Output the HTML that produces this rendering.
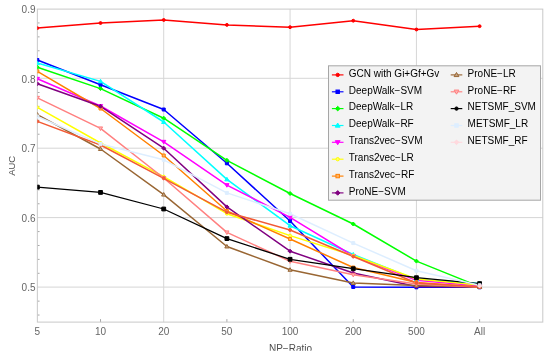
<!DOCTYPE html>
<html><head><meta charset="utf-8"><title>AUC vs NP-Ratio</title>
<style>
html,body{margin:0;padding:0;background:#fff;}
body{width:550px;height:356px;overflow:hidden;}
svg{display:block;font-family:"Liberation Sans",Arial,sans-serif;}
</style></head><body>
<svg width="550" height="356" viewBox="0 0 550 356">
<defs><clipPath id="pc"><rect x="37.35" y="9.1" width="505.45" height="313.00"/></clipPath></defs>
<rect x="0" y="0" width="550" height="356" fill="#ffffff"/>

<line x1="37.35" y1="78.3" x2="542.8" y2="78.3" stroke="#d6d6d6" stroke-width="1"/>
<line x1="37.35" y1="148.2" x2="542.8" y2="148.2" stroke="#d6d6d6" stroke-width="1"/>
<line x1="37.35" y1="217.6" x2="542.8" y2="217.6" stroke="#d6d6d6" stroke-width="1"/>
<line x1="37.35" y1="287.1" x2="542.8" y2="287.1" stroke="#d6d6d6" stroke-width="1"/>
<line x1="163.71" y1="9.1" x2="163.71" y2="322.1" stroke="#d6d6d6" stroke-width="1"/>
<line x1="290.07" y1="9.1" x2="290.07" y2="322.1" stroke="#d6d6d6" stroke-width="1"/>
<line x1="416.43" y1="9.1" x2="416.43" y2="322.1" stroke="#d6d6d6" stroke-width="1"/>
<line x1="37.35" y1="22.95" x2="39.55" y2="22.95" stroke="#a8a8a8" stroke-width="1"/>
<line x1="37.35" y1="36.86" x2="39.55" y2="36.86" stroke="#a8a8a8" stroke-width="1"/>
<line x1="37.35" y1="50.77" x2="39.55" y2="50.77" stroke="#a8a8a8" stroke-width="1"/>
<line x1="37.35" y1="64.68" x2="39.55" y2="64.68" stroke="#a8a8a8" stroke-width="1"/>
<line x1="37.35" y1="92.49" x2="39.55" y2="92.49" stroke="#a8a8a8" stroke-width="1"/>
<line x1="37.35" y1="106.40" x2="39.55" y2="106.40" stroke="#a8a8a8" stroke-width="1"/>
<line x1="37.35" y1="120.31" x2="39.55" y2="120.31" stroke="#a8a8a8" stroke-width="1"/>
<line x1="37.35" y1="134.22" x2="39.55" y2="134.22" stroke="#a8a8a8" stroke-width="1"/>
<line x1="37.35" y1="162.04" x2="39.55" y2="162.04" stroke="#a8a8a8" stroke-width="1"/>
<line x1="37.35" y1="175.95" x2="39.55" y2="175.95" stroke="#a8a8a8" stroke-width="1"/>
<line x1="37.35" y1="189.86" x2="39.55" y2="189.86" stroke="#a8a8a8" stroke-width="1"/>
<line x1="37.35" y1="203.77" x2="39.55" y2="203.77" stroke="#a8a8a8" stroke-width="1"/>
<line x1="37.35" y1="231.58" x2="39.55" y2="231.58" stroke="#a8a8a8" stroke-width="1"/>
<line x1="37.35" y1="245.49" x2="39.55" y2="245.49" stroke="#a8a8a8" stroke-width="1"/>
<line x1="37.35" y1="259.40" x2="39.55" y2="259.40" stroke="#a8a8a8" stroke-width="1"/>
<line x1="37.35" y1="273.31" x2="39.55" y2="273.31" stroke="#a8a8a8" stroke-width="1"/>
<line x1="37.35" y1="301.13" x2="39.55" y2="301.13" stroke="#a8a8a8" stroke-width="1"/>
<line x1="37.35" y1="315.04" x2="39.55" y2="315.04" stroke="#a8a8a8" stroke-width="1"/>
<line x1="100.53" y1="322.1" x2="100.53" y2="319.1" stroke="#a8a8a8" stroke-width="1"/>
<line x1="226.89" y1="322.1" x2="226.89" y2="319.1" stroke="#a8a8a8" stroke-width="1"/>
<line x1="353.25" y1="322.1" x2="353.25" y2="319.1" stroke="#a8a8a8" stroke-width="1"/>
<line x1="479.61" y1="322.1" x2="479.61" y2="319.1" stroke="#a8a8a8" stroke-width="1"/>
<rect x="37.35" y="9.1" width="505.45" height="313.00" fill="none" stroke="#c8c8c8" stroke-width="1"/>
<g clip-path="url(#pc)" stroke-linejoin="round">
<polyline points="37.35,28.10 100.53,23.07 163.71,20.00 226.89,24.90 290.07,27.20 353.25,20.70 416.43,29.50 479.61,26.20" fill="none" stroke="#ff0000" stroke-width="1.5"/>
<polyline points="37.35,60.00 100.53,84.80 163.71,109.50 226.89,163.30 290.07,221.00 353.25,287.00 416.43,287.30 479.61,287.30" fill="none" stroke="#0000ff" stroke-width="1.5"/>
<polyline points="37.35,67.20 100.53,88.60 163.71,118.20 226.89,160.30 290.07,193.50 353.25,224.00 416.43,261.10 479.61,286.60" fill="none" stroke="#00ff00" stroke-width="1.5"/>
<polyline points="37.35,63.00 100.53,81.40 163.71,122.00 226.89,179.40 290.07,225.70 353.25,254.50 416.43,279.60 479.61,283.40" fill="none" stroke="#00ffff" stroke-width="1.5"/>
<polyline points="37.35,78.80 100.53,106.00 163.71,141.80 226.89,185.10 290.07,217.30 353.25,256.00 416.43,280.20 479.61,286.00" fill="none" stroke="#ff00ff" stroke-width="1.5"/>
<polyline points="37.35,107.40 100.53,143.00 163.71,176.60 226.89,213.70 290.07,235.60 353.25,255.50 416.43,279.00 479.61,285.00" fill="none" stroke="#ffff00" stroke-width="1.5"/>
<polyline points="37.35,71.30 100.53,108.50 163.71,155.50 226.89,211.00 290.07,239.00 353.25,267.50 416.43,282.50 479.61,287.00" fill="none" stroke="#ff8000" stroke-width="1.5"/>
<polyline points="37.35,83.80 100.53,106.30 163.71,148.20 226.89,206.90 290.07,251.20 353.25,273.00 416.43,286.50 479.61,287.00" fill="none" stroke="#800080" stroke-width="1.5"/>
<polyline points="37.35,114.60 100.53,149.00 163.71,194.60 226.89,246.50 290.07,269.80 353.25,283.00 416.43,285.50 479.61,287.00" fill="none" stroke="#996633" stroke-width="1.5"/>
<polyline points="37.35,97.80 100.53,128.40 163.71,178.00 226.89,232.40 290.07,261.30 353.25,274.80 416.43,284.00 479.61,287.00" fill="none" stroke="#ff8080" stroke-width="1.5"/>
<polyline points="37.35,121.40 100.53,145.00 163.71,178.30 226.89,212.20 290.07,230.00 353.25,256.50 416.43,283.00 479.61,287.00" fill="none" stroke="#f25a35" stroke-width="1.5"/>
<polyline points="37.35,187.10 100.53,192.40 163.71,209.00 226.89,238.60 290.07,259.30 353.25,268.70 416.43,277.70 479.61,283.60" fill="none" stroke="#000000" stroke-width="1.25"/>
<polyline points="37.35,116.50 100.53,143.90 163.71,159.80 226.89,192.90 290.07,213.80 353.25,243.10 416.43,270.80 479.61,285.30" fill="none" stroke="#ddeeff" stroke-width="1.5"/>
<circle cx="37.35" cy="28.10" r="1.45" fill="#ff0000" stroke="#ff0000" stroke-width="1.0"/>
<circle cx="100.53" cy="23.07" r="1.45" fill="#ff0000" stroke="#ff0000" stroke-width="1.0"/>
<circle cx="163.71" cy="20.00" r="1.45" fill="#ff0000" stroke="#ff0000" stroke-width="1.0"/>
<circle cx="226.89" cy="24.90" r="1.45" fill="#ff0000" stroke="#ff0000" stroke-width="1.0"/>
<circle cx="290.07" cy="27.20" r="1.45" fill="#ff0000" stroke="#ff0000" stroke-width="1.0"/>
<circle cx="353.25" cy="20.70" r="1.45" fill="#ff0000" stroke="#ff0000" stroke-width="1.0"/>
<circle cx="416.43" cy="29.50" r="1.45" fill="#ff0000" stroke="#ff0000" stroke-width="1.0"/>
<circle cx="479.61" cy="26.20" r="1.45" fill="#ff0000" stroke="#ff0000" stroke-width="1.0"/>
<rect x="35.85" y="58.50" width="3.00" height="3.00" fill="#0000ff" stroke="#0000ff" stroke-width="1.0"/>
<rect x="99.03" y="83.30" width="3.00" height="3.00" fill="#0000ff" stroke="#0000ff" stroke-width="1.0"/>
<rect x="162.21" y="108.00" width="3.00" height="3.00" fill="#0000ff" stroke="#0000ff" stroke-width="1.0"/>
<rect x="225.39" y="161.80" width="3.00" height="3.00" fill="#0000ff" stroke="#0000ff" stroke-width="1.0"/>
<rect x="288.57" y="219.50" width="3.00" height="3.00" fill="#0000ff" stroke="#0000ff" stroke-width="1.0"/>
<rect x="351.75" y="285.50" width="3.00" height="3.00" fill="#0000ff" stroke="#0000ff" stroke-width="1.0"/>
<rect x="414.93" y="285.80" width="3.00" height="3.00" fill="#0000ff" stroke="#0000ff" stroke-width="1.0"/>
<rect x="478.11" y="285.80" width="3.00" height="3.00" fill="#0000ff" stroke="#0000ff" stroke-width="1.0"/>
<path d="M37.35 65.20L39.35 67.20L37.35 69.20L35.35 67.20Z" fill="#00ff00" stroke="#00ff00" stroke-width="1.0"/>
<path d="M100.53 86.60L102.53 88.60L100.53 90.60L98.53 88.60Z" fill="#00ff00" stroke="#00ff00" stroke-width="1.0"/>
<path d="M163.71 116.20L165.71 118.20L163.71 120.20L161.71 118.20Z" fill="#00ff00" stroke="#00ff00" stroke-width="1.0"/>
<path d="M226.89 158.30L228.89 160.30L226.89 162.30L224.89 160.30Z" fill="#00ff00" stroke="#00ff00" stroke-width="1.0"/>
<path d="M290.07 191.50L292.07 193.50L290.07 195.50L288.07 193.50Z" fill="#00ff00" stroke="#00ff00" stroke-width="1.0"/>
<path d="M353.25 222.00L355.25 224.00L353.25 226.00L351.25 224.00Z" fill="#00ff00" stroke="#00ff00" stroke-width="1.0"/>
<path d="M416.43 259.10L418.43 261.10L416.43 263.10L414.43 261.10Z" fill="#00ff00" stroke="#00ff00" stroke-width="1.0"/>
<path d="M479.61 284.60L481.61 286.60L479.61 288.60L477.61 286.60Z" fill="#00ff00" stroke="#00ff00" stroke-width="1.0"/>
<path d="M37.35 60.90L39.45 64.47L35.25 64.47Z" fill="#00ffff" stroke="#00ffff" stroke-width="1.0"/>
<path d="M100.53 79.30L102.63 82.87L98.43 82.87Z" fill="#00ffff" stroke="#00ffff" stroke-width="1.0"/>
<path d="M163.71 119.90L165.81 123.47L161.61 123.47Z" fill="#00ffff" stroke="#00ffff" stroke-width="1.0"/>
<path d="M226.89 177.30L228.99 180.87L224.79 180.87Z" fill="#00ffff" stroke="#00ffff" stroke-width="1.0"/>
<path d="M290.07 223.60L292.17 227.17L287.97 227.17Z" fill="#00ffff" stroke="#00ffff" stroke-width="1.0"/>
<path d="M353.25 252.40L355.35 255.97L351.15 255.97Z" fill="#00ffff" stroke="#00ffff" stroke-width="1.0"/>
<path d="M416.43 277.50L418.53 281.07L414.33 281.07Z" fill="#00ffff" stroke="#00ffff" stroke-width="1.0"/>
<path d="M479.61 281.30L481.71 284.87L477.51 284.87Z" fill="#00ffff" stroke="#00ffff" stroke-width="1.0"/>
<path d="M37.35 80.90L39.45 77.33L35.25 77.33Z" fill="#ff00ff" stroke="#ff00ff" stroke-width="1.0"/>
<path d="M100.53 108.10L102.63 104.53L98.43 104.53Z" fill="#ff00ff" stroke="#ff00ff" stroke-width="1.0"/>
<path d="M163.71 143.90L165.81 140.33L161.61 140.33Z" fill="#ff00ff" stroke="#ff00ff" stroke-width="1.0"/>
<path d="M226.89 187.20L228.99 183.63L224.79 183.63Z" fill="#ff00ff" stroke="#ff00ff" stroke-width="1.0"/>
<path d="M290.07 219.40L292.17 215.83L287.97 215.83Z" fill="#ff00ff" stroke="#ff00ff" stroke-width="1.0"/>
<path d="M353.25 258.10L355.35 254.53L351.15 254.53Z" fill="#ff00ff" stroke="#ff00ff" stroke-width="1.0"/>
<path d="M416.43 282.30L418.53 278.73L414.33 278.73Z" fill="#ff00ff" stroke="#ff00ff" stroke-width="1.0"/>
<path d="M479.61 288.10L481.71 284.53L477.51 284.53Z" fill="#ff00ff" stroke="#ff00ff" stroke-width="1.0"/>
<circle cx="37.35" cy="107.40" r="1.45" fill="#ffff66" stroke="#ffff00" stroke-width="1.0"/>
<circle cx="100.53" cy="143.00" r="1.45" fill="#ffff66" stroke="#ffff00" stroke-width="1.0"/>
<circle cx="163.71" cy="176.60" r="1.45" fill="#ffff66" stroke="#ffff00" stroke-width="1.0"/>
<circle cx="226.89" cy="213.70" r="1.45" fill="#ffff66" stroke="#ffff00" stroke-width="1.0"/>
<circle cx="290.07" cy="235.60" r="1.45" fill="#ffff66" stroke="#ffff00" stroke-width="1.0"/>
<circle cx="353.25" cy="255.50" r="1.45" fill="#ffff66" stroke="#ffff00" stroke-width="1.0"/>
<circle cx="416.43" cy="279.00" r="1.45" fill="#ffff66" stroke="#ffff00" stroke-width="1.0"/>
<circle cx="479.61" cy="285.00" r="1.45" fill="#ffff66" stroke="#ffff00" stroke-width="1.0"/>
<rect x="35.85" y="69.80" width="3.00" height="3.00" fill="#ffb366" stroke="#ff8000" stroke-width="1.0"/>
<rect x="99.03" y="107.00" width="3.00" height="3.00" fill="#ffb366" stroke="#ff8000" stroke-width="1.0"/>
<rect x="162.21" y="154.00" width="3.00" height="3.00" fill="#ffb366" stroke="#ff8000" stroke-width="1.0"/>
<rect x="225.39" y="209.50" width="3.00" height="3.00" fill="#ffb366" stroke="#ff8000" stroke-width="1.0"/>
<rect x="288.57" y="237.50" width="3.00" height="3.00" fill="#ffb366" stroke="#ff8000" stroke-width="1.0"/>
<rect x="351.75" y="266.00" width="3.00" height="3.00" fill="#ffb366" stroke="#ff8000" stroke-width="1.0"/>
<rect x="414.93" y="281.00" width="3.00" height="3.00" fill="#ffb366" stroke="#ff8000" stroke-width="1.0"/>
<rect x="478.11" y="285.50" width="3.00" height="3.00" fill="#ffb366" stroke="#ff8000" stroke-width="1.0"/>
<path d="M37.35 81.80L39.35 83.80L37.35 85.80L35.35 83.80Z" fill="#800080" stroke="#800080" stroke-width="1.0"/>
<path d="M100.53 104.30L102.53 106.30L100.53 108.30L98.53 106.30Z" fill="#800080" stroke="#800080" stroke-width="1.0"/>
<path d="M163.71 146.20L165.71 148.20L163.71 150.20L161.71 148.20Z" fill="#800080" stroke="#800080" stroke-width="1.0"/>
<path d="M226.89 204.90L228.89 206.90L226.89 208.90L224.89 206.90Z" fill="#800080" stroke="#800080" stroke-width="1.0"/>
<path d="M290.07 249.20L292.07 251.20L290.07 253.20L288.07 251.20Z" fill="#800080" stroke="#800080" stroke-width="1.0"/>
<path d="M353.25 271.00L355.25 273.00L353.25 275.00L351.25 273.00Z" fill="#800080" stroke="#800080" stroke-width="1.0"/>
<path d="M416.43 284.50L418.43 286.50L416.43 288.50L414.43 286.50Z" fill="#800080" stroke="#800080" stroke-width="1.0"/>
<path d="M479.61 285.00L481.61 287.00L479.61 289.00L477.61 287.00Z" fill="#800080" stroke="#800080" stroke-width="1.0"/>
<path d="M37.35 112.50L39.45 116.07L35.25 116.07Z" fill="#c2a385" stroke="#996633" stroke-width="1.0"/>
<path d="M100.53 146.90L102.63 150.47L98.43 150.47Z" fill="#c2a385" stroke="#996633" stroke-width="1.0"/>
<path d="M163.71 192.50L165.81 196.07L161.61 196.07Z" fill="#c2a385" stroke="#996633" stroke-width="1.0"/>
<path d="M226.89 244.40L228.99 247.97L224.79 247.97Z" fill="#c2a385" stroke="#996633" stroke-width="1.0"/>
<path d="M290.07 267.70L292.17 271.27L287.97 271.27Z" fill="#c2a385" stroke="#996633" stroke-width="1.0"/>
<path d="M353.25 280.90L355.35 284.47L351.15 284.47Z" fill="#c2a385" stroke="#996633" stroke-width="1.0"/>
<path d="M416.43 283.40L418.53 286.97L414.33 286.97Z" fill="#c2a385" stroke="#996633" stroke-width="1.0"/>
<path d="M479.61 284.90L481.71 288.47L477.51 288.47Z" fill="#c2a385" stroke="#996633" stroke-width="1.0"/>
<path d="M37.35 99.90L39.45 96.33L35.25 96.33Z" fill="#ffb3b3" stroke="#ff8080" stroke-width="1.0"/>
<path d="M100.53 130.50L102.63 126.93L98.43 126.93Z" fill="#ffb3b3" stroke="#ff8080" stroke-width="1.0"/>
<path d="M163.71 180.10L165.81 176.53L161.61 176.53Z" fill="#ffb3b3" stroke="#ff8080" stroke-width="1.0"/>
<path d="M226.89 234.50L228.99 230.93L224.79 230.93Z" fill="#ffb3b3" stroke="#ff8080" stroke-width="1.0"/>
<path d="M290.07 263.40L292.17 259.83L287.97 259.83Z" fill="#ffb3b3" stroke="#ff8080" stroke-width="1.0"/>
<path d="M353.25 276.90L355.35 273.33L351.15 273.33Z" fill="#ffb3b3" stroke="#ff8080" stroke-width="1.0"/>
<path d="M416.43 286.10L418.53 282.53L414.33 282.53Z" fill="#ffb3b3" stroke="#ff8080" stroke-width="1.0"/>
<path d="M479.61 289.10L481.71 285.53L477.51 285.53Z" fill="#ffb3b3" stroke="#ff8080" stroke-width="1.0"/>
<circle cx="37.35" cy="121.40" r="1.45" fill="#f25a35" stroke="#f25a35" stroke-width="1.0"/>
<circle cx="100.53" cy="145.00" r="1.45" fill="#f25a35" stroke="#f25a35" stroke-width="1.0"/>
<circle cx="163.71" cy="178.30" r="1.45" fill="#f25a35" stroke="#f25a35" stroke-width="1.0"/>
<circle cx="226.89" cy="212.20" r="1.45" fill="#f25a35" stroke="#f25a35" stroke-width="1.0"/>
<circle cx="290.07" cy="230.00" r="1.45" fill="#f25a35" stroke="#f25a35" stroke-width="1.0"/>
<circle cx="353.25" cy="256.50" r="1.45" fill="#f25a35" stroke="#f25a35" stroke-width="1.0"/>
<circle cx="416.43" cy="283.00" r="1.45" fill="#f25a35" stroke="#f25a35" stroke-width="1.0"/>
<circle cx="479.61" cy="287.00" r="1.45" fill="#f25a35" stroke="#f25a35" stroke-width="1.0"/>
<rect x="35.45" y="185.20" width="3.80" height="3.80" fill="#000000" stroke="#000000" stroke-width="1.0"/>
<rect x="98.63" y="190.50" width="3.80" height="3.80" fill="#000000" stroke="#000000" stroke-width="1.0"/>
<rect x="161.81" y="207.10" width="3.80" height="3.80" fill="#000000" stroke="#000000" stroke-width="1.0"/>
<rect x="224.99" y="236.70" width="3.80" height="3.80" fill="#000000" stroke="#000000" stroke-width="1.0"/>
<rect x="288.17" y="257.40" width="3.80" height="3.80" fill="#000000" stroke="#000000" stroke-width="1.0"/>
<rect x="351.35" y="266.80" width="3.80" height="3.80" fill="#000000" stroke="#000000" stroke-width="1.0"/>
<rect x="414.53" y="275.80" width="3.80" height="3.80" fill="#000000" stroke="#000000" stroke-width="1.0"/>
<rect x="477.71" y="281.70" width="3.80" height="3.80" fill="#000000" stroke="#000000" stroke-width="1.0"/>
<rect x="35.85" y="115.00" width="3.00" height="3.00" fill="#ddeeff" stroke="#ddeeff" stroke-width="1.0"/>
<rect x="99.03" y="142.40" width="3.00" height="3.00" fill="#ddeeff" stroke="#ddeeff" stroke-width="1.0"/>
<rect x="162.21" y="158.30" width="3.00" height="3.00" fill="#ddeeff" stroke="#ddeeff" stroke-width="1.0"/>
<rect x="225.39" y="191.40" width="3.00" height="3.00" fill="#ddeeff" stroke="#ddeeff" stroke-width="1.0"/>
<rect x="288.57" y="212.30" width="3.00" height="3.00" fill="#ddeeff" stroke="#ddeeff" stroke-width="1.0"/>
<rect x="351.75" y="241.60" width="3.00" height="3.00" fill="#ddeeff" stroke="#ddeeff" stroke-width="1.0"/>
<rect x="414.93" y="269.30" width="3.00" height="3.00" fill="#ddeeff" stroke="#ddeeff" stroke-width="1.0"/>
<rect x="478.11" y="283.80" width="3.00" height="3.00" fill="#ddeeff" stroke="#ddeeff" stroke-width="1.0"/>
<path d="M479.61 283.80L481.61 285.80L479.61 287.80L477.61 285.80Z" fill="#ffd9de" stroke="#ffd9de" stroke-width="1.0"/>
</g>
<g fill="#666666" font-size="10" text-anchor="end">
<text x="35.5" y="13.35">0.9</text>
<text x="35.5" y="82.60">0.8</text>
<text x="35.5" y="152.35">0.7</text>
<text x="35.5" y="221.60">0.6</text>
<text x="35.5" y="291.40">0.5</text>
</g>
<g fill="#666666" font-size="10" text-anchor="middle">
<text x="37.35" y="334.6">5</text>
<text x="100.53" y="334.6">10</text>
<text x="163.71" y="334.6">20</text>
<text x="226.89" y="334.6">50</text>
<text x="290.07" y="334.6">100</text>
<text x="353.25" y="334.6">200</text>
<text x="416.43" y="334.6">500</text>
<text x="479.61" y="334.6">All</text>
</g>
<clipPath id="xc"><rect x="0" y="0" width="550" height="350.8"/></clipPath>
<text x="290.5" y="351.6" fill="#4d4d4d" font-size="10" text-anchor="middle" clip-path="url(#xc)">NP−Ratio</text>
<text transform="translate(15.3 165.8) rotate(-90)" fill="#4d4d4d" font-size="9.5" text-anchor="middle">AUC</text>
<rect x="328.5" y="65.8" width="212.0" height="134.4" fill="#f3f3f3" stroke="#a6a6a6" stroke-width="1"/>
<line x1="331.9" y1="74.9" x2="343.5" y2="74.9" stroke="#ff0000" stroke-width="1.15"/>
<circle cx="337.70" cy="74.90" r="1.67" fill="#ff0000" stroke="#ff0000" stroke-width="1.0"/>
<text x="348.8" y="76.7" fill="#000000" font-size="10">GCN with Gi+Gf+Gv</text>
<line x1="331.9" y1="91.8" x2="343.5" y2="91.8" stroke="#0000ff" stroke-width="1.15"/>
<rect x="335.97" y="90.04" width="3.45" height="3.45" fill="#0000ff" stroke="#0000ff" stroke-width="1.0"/>
<text x="348.8" y="93.6" fill="#000000" font-size="10">DeepWalk−SVM</text>
<line x1="331.9" y1="108.6" x2="343.5" y2="108.6" stroke="#00ff00" stroke-width="1.15"/>
<path d="M337.70 106.32L340.00 108.62L337.70 110.92L335.40 108.62Z" fill="#00ff00" stroke="#00ff00" stroke-width="1.0"/>
<text x="348.8" y="110.4" fill="#000000" font-size="10">DeepWalk−LR</text>
<line x1="331.9" y1="125.5" x2="343.5" y2="125.5" stroke="#00ffff" stroke-width="1.15"/>
<path d="M337.70 123.06L340.12 127.17L335.28 127.17Z" fill="#00ffff" stroke="#00ffff" stroke-width="1.0"/>
<text x="348.8" y="127.3" fill="#000000" font-size="10">DeepWalk−RF</text>
<line x1="331.9" y1="142.3" x2="343.5" y2="142.3" stroke="#ff00ff" stroke-width="1.15"/>
<path d="M337.70 144.75L340.12 140.65L335.28 140.65Z" fill="#ff00ff" stroke="#ff00ff" stroke-width="1.0"/>
<text x="348.8" y="144.1" fill="#000000" font-size="10">Trans2vec−SVM</text>
<line x1="331.9" y1="159.2" x2="343.5" y2="159.2" stroke="#ffff00" stroke-width="1.15"/>
<circle cx="337.70" cy="159.20" r="1.67" fill="#ffff66" stroke="#ffff00" stroke-width="1.0"/>
<text x="348.8" y="161.0" fill="#000000" font-size="10">Trans2vec−LR</text>
<line x1="331.9" y1="176.1" x2="343.5" y2="176.1" stroke="#ff8000" stroke-width="1.15"/>
<rect x="335.97" y="174.34" width="3.45" height="3.45" fill="#ffb366" stroke="#ff8000" stroke-width="1.0"/>
<text x="348.8" y="177.9" fill="#000000" font-size="10">Trans2vec−RF</text>
<line x1="331.9" y1="192.9" x2="343.5" y2="192.9" stroke="#800080" stroke-width="1.15"/>
<path d="M337.70 190.62L340.00 192.92L337.70 195.22L335.40 192.92Z" fill="#800080" stroke="#800080" stroke-width="1.0"/>
<text x="348.8" y="194.7" fill="#000000" font-size="10">ProNE−SVM</text>
<line x1="450.7" y1="74.9" x2="462.3" y2="74.9" stroke="#996633" stroke-width="1.15"/>
<path d="M456.50 72.48L458.92 76.59L454.08 76.59Z" fill="#c2a385" stroke="#996633" stroke-width="1.0"/>
<text x="467.6" y="76.7" fill="#000000" font-size="10">ProNE−LR</text>
<line x1="450.7" y1="91.8" x2="462.3" y2="91.8" stroke="#ff8080" stroke-width="1.15"/>
<path d="M456.50 94.18L458.92 90.07L454.08 90.07Z" fill="#ffb3b3" stroke="#ff8080" stroke-width="1.0"/>
<text x="467.6" y="93.6" fill="#000000" font-size="10">ProNE−RF</text>
<line x1="450.7" y1="108.6" x2="462.3" y2="108.6" stroke="#000000" stroke-width="1.15"/>
<circle cx="456.50" cy="108.62" r="1.67" fill="#000000" stroke="#000000" stroke-width="1.0"/>
<text x="467.6" y="110.4" fill="#000000" font-size="10">NETSMF_SVM</text>
<line x1="450.7" y1="125.5" x2="462.3" y2="125.5" stroke="#ddeeff" stroke-width="1.15"/>
<rect x="454.77" y="123.76" width="3.45" height="3.45" fill="#ddeeff" stroke="#ddeeff" stroke-width="1.0"/>
<text x="467.6" y="127.3" fill="#000000" font-size="10">METSMF_LR</text>
<line x1="450.7" y1="142.3" x2="462.3" y2="142.3" stroke="#ffd9de" stroke-width="1.15"/>
<path d="M456.50 140.04L458.80 142.34L456.50 144.64L454.20 142.34Z" fill="#ffd9de" stroke="#ffd9de" stroke-width="1.0"/>
<text x="467.6" y="144.1" fill="#000000" font-size="10">NETSMF_RF</text>
</svg>
</body></html>
